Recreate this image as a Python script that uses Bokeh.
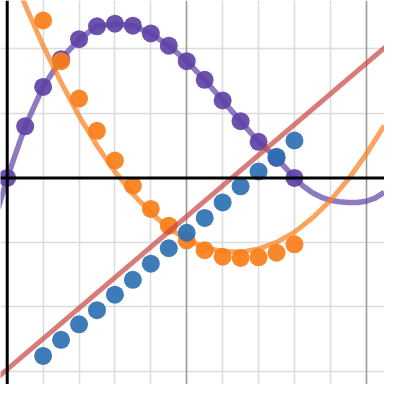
from bokeh.plotting import figure
from bokeh.models import Span, FixedTicker, Range1d, Grid
from bokeh.embed import file_html
from bokeh.resources import INLINE

# ---- data ----
x_pts = [0, 0.5, 1, 1.5, 2, 2.5, 3, 3.5, 4, 4.5, 5, 5.5, 6, 6.5, 7, 7.5, 8]
purple_pts = [0.0, 0.80, 1.41, 1.84, 2.15, 2.35, 2.39, 2.36, 2.24, 2.05, 1.81,
              1.52, 1.20, 0.88, 0.56, 0.31, 0.0]

x_pts2 = [1, 1.5, 2, 2.5, 3, 3.5, 4, 4.5, 5, 5.5, 6, 6.5, 7, 7.5, 8]
orange_pts = [2.44, 1.81, 1.23, 0.73, 0.27, -0.12, -0.48, -0.74, -0.97, -1.12,
              -1.22, -1.24, -1.23, -1.16, -1.03]
blue_pts = [-2.76, -2.51, -2.27, -2.05, -1.81, -1.58, -1.33, -1.09, -0.85, -0.62,
            -0.38, -0.13, 0.10, 0.33, 0.58]

purple_curve_x = [-0.25, 0, 0.5, 1, 1.5, 2, 2.5, 3, 3.5, 4, 4.5, 5, 5.5, 6, 6.5,
                  7, 7.5, 8, 8.25, 8.5, 8.75, 9, 9.25, 9.5, 9.75, 10, 10.25, 10.5]
purple_curve_y = [-0.47, 0.0, 0.80, 1.41, 1.84, 2.15, 2.35, 2.39, 2.36, 2.24, 2.05,
                  1.81, 1.52, 1.20, 0.88, 0.56, 0.31, 0.0, -0.13, -0.23, -0.30,
                  -0.345, -0.37, -0.382, -0.382, -0.362, -0.312, -0.225]

orange_curve_x = [0.25, 0.5, 1, 1.5, 2, 2.5, 3, 3.5, 4, 4.5, 5, 5.5, 6, 6.5, 7,
                  7.5, 8, 8.5, 9, 9.5, 10, 10.5]
orange_curve_y = [3.02, 2.68, 2.05, 1.48, 0.96, 0.50, 0.10, -0.25, -0.54, -0.78,
                  -0.955, -1.08, -1.14, -1.15, -1.10, -1.00, -0.84, -0.62, -0.35,
                  -0.02, 0.37, 0.81]

red_line_x = [-1, 11]
red_line_y = [-3.44, 2.25]

x_minor_ticks = [1, 2, 3, 4, 6, 7, 8, 9]
x_major_ticks = [5, 10]
y_ticks = [-3, -2, -1, 1, 2]

PURPLE = "#6042a6"
ORANGE = "#fa7e19"
BLUE = "#2d70b3"
RED = "#c74440"

p = figure(width=384, height=384, output_backend="svg", toolbar_location=None,
           x_range=Range1d(-0.187, 10.508), y_range=Range1d(-3.202, 2.75),
           min_border=0)
p.outline_line_color = None
p.background_fill_color = "white"
p.xaxis.visible = False
p.yaxis.visible = False

p.xgrid.ticker = FixedTicker(ticks=x_minor_ticks)
p.xgrid.grid_line_color = "#dcdcdc"
p.xgrid.grid_line_width = 1.6
p.ygrid.ticker = FixedTicker(ticks=y_ticks)
p.ygrid.grid_line_color = "#dcdcdc"
p.ygrid.grid_line_width = 1.6

major = Grid(dimension=0, ticker=FixedTicker(ticks=x_major_ticks),
             grid_line_color="#9a9a9a", grid_line_width=1.6)
p.add_layout(major)

p.add_layout(Span(location=0, dimension="height", line_color="black", line_width=3))
p.add_layout(Span(location=0, dimension="width", line_color="black", line_width=3))

# purple
p.line(purple_curve_x, purple_curve_y, line_color=PURPLE, line_alpha=0.7,
       line_width=5.5, line_join="round")
p.scatter(x_pts, purple_pts, size=18, fill_color=PURPLE, fill_alpha=0.92,
          line_color=None)
# orange
p.line(orange_curve_x, orange_curve_y, line_color=ORANGE, line_alpha=0.7,
       line_width=5, line_join="round")
p.scatter(x_pts2, orange_pts, size=18, fill_color=ORANGE, fill_alpha=0.92,
          line_color=None)
# blue
p.scatter(x_pts2, blue_pts, size=18, fill_color=BLUE, fill_alpha=0.92,
          line_color=None)
# red
p.line(red_line_x, red_line_y, line_color=RED, line_alpha=0.7, line_width=5)

open("out.html", "w").write(file_html(p, INLINE))
